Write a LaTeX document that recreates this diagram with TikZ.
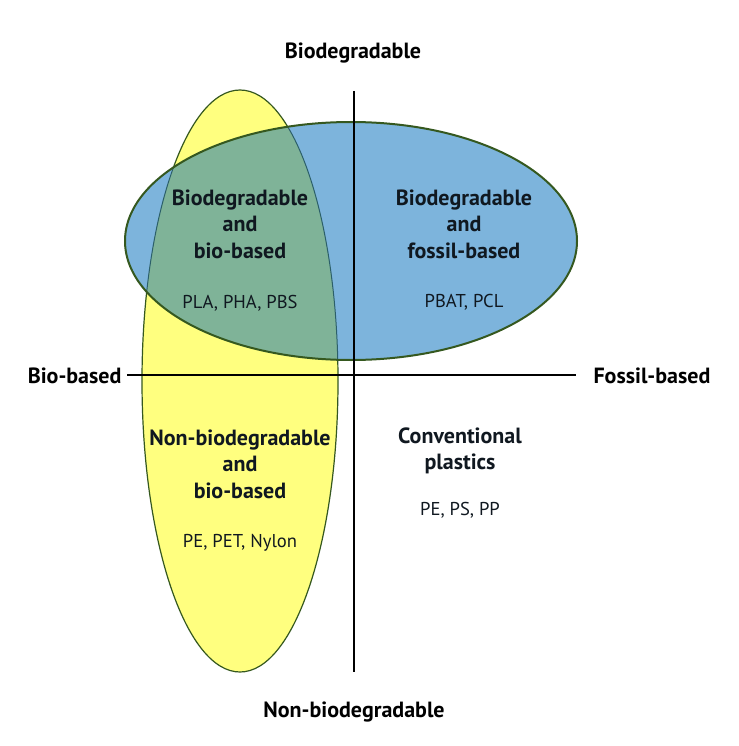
\documentclass[tikz,border=0pt]{standalone}
\usepackage{fontspec}
\setmainfont{PT Sans}
\definecolor{bioyellow}{HTML}{FFFF7F}
\definecolor{fossilblue}{HTML}{7DB4DC}
\definecolor{overlapgreen}{HTML}{7FB398}
\definecolor{rimgreen}{HTML}{35581F}
\definecolor{rimteal}{HTML}{2C5F6A}
\definecolor{inktext}{HTML}{101820}

\begin{document}
\begin{tikzpicture}[x=1pt,y=-1pt,
  axislabel/.style={font=\bfseries\fontsize{22}{26}\selectfont},
  quadtitle/.style={font=\bfseries\fontsize{22}{26.5}\selectfont, align=center, text=inktext},
  quadlist/.style={font=\fontsize{18.6}{22}\selectfont, text=inktext},
  axisline/.style={line width=2.8pt}]
  \useasboundingbox (0,0) rectangle (738,746);

  % Ellipses
  \fill[bioyellow] (240,381) ellipse [x radius=98pt, y radius=291pt];
  \draw[rimgreen, line width=1.2pt] (240,381) ellipse [x radius=98pt, y radius=291pt];
  \fill[fossilblue] (351,241) ellipse [x radius=226pt, y radius=119pt];
  \begin{scope}
    \clip (351,241) ellipse [x radius=226pt, y radius=119pt];
    \fill[overlapgreen] (240,381) ellipse [x radius=98pt, y radius=291pt];
    \draw[rimteal, line width=1pt] (240,381) ellipse [x radius=98pt, y radius=291pt];
  \end{scope}
  \draw[rimgreen, line width=2pt] (351,241) ellipse [x radius=226pt, y radius=119pt];

  % Axes
  \node[axislabel] (top) at (353,53) {Biodegradable};
  \node[axislabel] (bottom) at (354,712) {Non-biodegradable};
  \node[axislabel, anchor=east] (left) at (125,376) {Bio-based};
  \node[axislabel, anchor=west] (right) at (590,376) {Fossil-based};
  \coordinate (vtop) at (354,91);
  \coordinate (vbot) at (354,672);
  \coordinate (hleft) at (127,375);
  \coordinate (hright) at (576,375);
  \draw[axisline] (vtop) -- (vbot);
  \draw[axisline] (hleft) -- (hright);

  % Quadrant labels
  \node[quadtitle] (biobio) at (240,224) {Biodegradable\\and\\bio-based};
  \node[quadlist] (biobiolist) at (240,303) {PLA, PHA, PBS};
  \node[quadtitle] (biofossil) at (464,224) {Biodegradable\\and\\fossil-based};
  \node[quadlist] (biofossillist) at (464,302) {PBAT, PCL};
  \node[quadtitle] (nonbio) at (240,464) {Non-biodegradable\\and\\bio-based};
  \node[quadlist] (nonbiolist) at (240,543) {PE, PET, Nylon};
  \node[quadtitle] (conv) at (460,451) {Conventional\\plastics};
  \node[quadlist] (convlist) at (460,510) {PE, PS, PP};
\end{tikzpicture}
\end{document}
